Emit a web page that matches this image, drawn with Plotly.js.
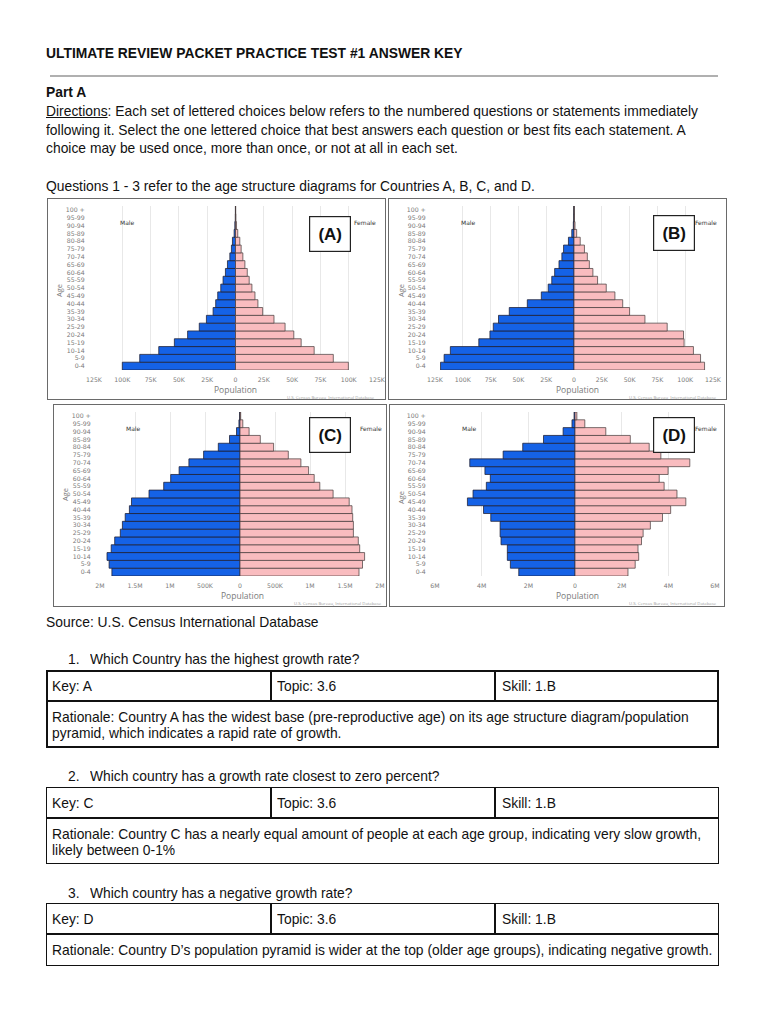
<!DOCTYPE html>
<html>
<head>
<meta charset="utf-8">
<script src="https://cdn.plot.ly/plotly-3.0.1.min.js"></script>
<style>
  html, body { margin:0; padding:0; background:#fff; }
  body { width:768px; height:1024px; position:relative; overflow:hidden; font-family:"Liberation Sans", Arial, sans-serif; color:#111; }
  .t { position:absolute; white-space:nowrap; font-size:15px; line-height:18px; transform-origin:0 50%; }
  .b { font-weight:bold; }
  .frame { position:absolute; box-sizing:border-box; border:1.5px solid #6a6a6a; pointer-events:none; }
  .chart { position:absolute; }
  .box { position:absolute; box-sizing:border-box; border:solid #111; }
  .line { position:absolute; background:#111; }
</style>
</head>
<body>
<div id="page"></div>
<script>
// ---------------- DATA ----------------
const ageGroups = ['0-4','5-9','10-14','15-19','20-24','25-29','30-34','35-39','40-44','45-49','50-54','55-59','60-64','65-69','70-74','75-79','80-84','85-89','90-94','95-99','100 +'];

const maleA   = [100000, 84600, 67800, 54000, 42300, 32000, 25700, 19800, 17500, 15700, 13000, 11000, 8900, 7100, 5000, 3600, 2700, 1200, 600, 200, 100];
const femaleA = [99700, 86400, 69500, 58000, 51500, 43800, 34000, 24000, 19800, 17200, 14500, 12100, 10400, 8300, 6500, 5000, 3800, 2000, 900, 400, 200];

const maleB   = [120000, 116800, 111200, 85600, 75600, 72600, 67900, 58200, 42000, 29400, 23200, 20000, 17400, 13500, 10900, 9400, 5000, 2000, 600, 200, 100];
const femaleB = [117400, 113800, 107400, 99000, 98500, 83800, 63800, 50000, 43800, 36800, 29000, 21200, 17000, 13800, 12000, 9400, 5600, 2400, 900, 300, 100];

const maleC   = [1830000, 1870000, 1900000, 1840000, 1790000, 1710000, 1680000, 1640000, 1580000, 1550000, 1300000, 1090000, 990000, 870000, 730000, 520000, 310000, 150000, 50000, 15000, 5000];
const femaleC = [1700000, 1750000, 1780000, 1710000, 1690000, 1620000, 1620000, 1610000, 1600000, 1560000, 1330000, 1140000, 1060000, 980000, 870000, 690000, 480000, 290000, 130000, 40000, 10000];

const maleD   = [2410000, 2770000, 2900000, 2900000, 3170000, 3210000, 3210000, 3610000, 3920000, 4610000, 4370000, 3800000, 3630000, 3860000, 4510000, 3080000, 2240000, 1350000, 510000, 130000, 40000];
const femaleD = [2270000, 2580000, 2730000, 2700000, 2850000, 2920000, 3230000, 3750000, 4100000, 4750000, 4370000, 3820000, 3610000, 3990000, 4920000, 3680000, 3180000, 2370000, 1320000, 420000, 80000];

const tickValsK = [-125000, -100000, -75000, -50000, -25000, 0, 25000, 50000, 75000, 100000, 125000];
const tickTextK = ['125K','100K','75K','50K','25K','0','25K','50K','75K','100K','125K'];
const tickValsC = [-2000000, -1500000, -1000000, -500000, 0, 500000, 1000000, 1500000, 2000000];
const tickTextC = ['2M','1.5M','1M','500K','0','500K','1M','1.5M','2M'];
const tickValsD = [-6000000, -4000000, -2000000, 0, 2000000, 4000000, 6000000];
const tickTextD = ['6M','4M','2M','0','2M','4M','6M'];

const chartLetters = ['(A)', '(B)', '(C)', '(D)'];
const maleLabel = 'Male', femaleLabel = 'Female', ageTitle = 'Age', popTitle = 'Population';
const creditText = 'U.S. Census Bureau, International Database';

// ---------------- PAGE TEXT ----------------
const page = document.getElementById('page');
function addText(txt, x, yc, opts) {
  opts = opts || {};
  const d = document.createElement('div');
  d.className = 't' + (opts.bold ? ' b' : '');
  d.innerHTML = txt;
  d.style.left = x + 'px';
  d.style.top = (yc - 9) + 'px';
  if (opts.size) d.style.fontSize = opts.size + 'px';
  page.appendChild(d);
  return d;
}
const texts = [];
texts.push(addText('ULTIMATE REVIEW PACKET PRACTICE TEST #1 ANSWER KEY', 46, 53, {bold:true, size:15}));
const hr = document.createElement('div');
hr.style.cssText = 'position:absolute;left:50px;top:75px;width:668px;height:1.5px;background:#b0b0b0;';
page.appendChild(hr);
texts.push(addText('Part A', 46, 92, {bold:true}));
const dirLine = addText('<span style="text-decoration:underline">Directions</span>: Each set of lettered choices below refers to the numbered questions or statements immediately', 46, 111);
texts.push(dirLine);
texts.push(addText('following it. Select the one lettered choice that best answers each question or best fits each statement. A', 46, 129.5));
texts.push(addText('choice may be used once, more than once, or not at all in each set.', 46, 148));
texts.push(addText('Questions 1 - 3 refer to the age structure diagrams for Countries A, B, C, and D.', 46, 186));
texts.push(addText('Source: U.S. Census International Database', 46, 622));

texts.push(addText('1.', 68, 659));
texts.push(addText('Which Country has the highest growth rate?', 90, 659));
texts.push(addText('2.', 68, 776));
texts.push(addText('Which country has a growth rate closest to zero percent?', 90, 776));
texts.push(addText('3.', 68, 893));
texts.push(addText('Which country has a negative growth rate?', 90, 893));

function addTable(top, mid, bottom, bw, row1, rat) {
  const L = 46, R = 719, c1 = 271, c2 = 495;
  const o = document.createElement('div');
  o.className = 'box';
  o.style.cssText += `left:${L}px;top:${top}px;width:${R-L}px;height:${bottom-top}px;border-width:${bw}px;`;
  page.appendChild(o);
  const h = document.createElement('div');
  h.className = 'line';
  h.style.cssText += `left:${L}px;top:${mid-bw/2}px;width:${R-L}px;height:${bw}px;`;
  page.appendChild(h);
  [c1, c2].forEach(c => {
    const v = document.createElement('div');
    v.className = 'line';
    v.style.cssText += `left:${c-bw/2}px;top:${top}px;width:${bw}px;height:${mid-top}px;`;
    page.appendChild(v);
  });
  const yc = (top + mid) / 2 + 0.5;
  texts.push(addText(row1[0], 52, yc));
  texts.push(addText(row1[1], 277, yc));
  texts.push(addText(row1[2], 502, yc));
  rat.forEach((r, i) => texts.push(addText(r, 52, rat.length === 1 ? (mid + bottom) / 2 : mid + 16 + i * 16)));
}
addTable(670, 701, 748, 2, ['Key: A', 'Topic: 3.6', 'Skill: 1.B'],
  ['Rationale: Country A has the widest base (pre-reproductive age) on its age structure diagram/population',
   'pyramid, which indicates a rapid rate of growth.']);
addTable(787, 818, 864, 1.5, ['Key: C', 'Topic: 3.6', 'Skill: 1.B'],
  ['Rationale: Country C has a nearly equal amount of people at each age group, indicating very slow growth,',
   'likely between 0-1%']);
addTable(903, 934, 966, 1.5, ['Key: D', 'Topic: 3.6', 'Skill: 1.B'],
  ['Rationale: Country D\u2019s population pyramid is wider at the top (older age groups), indicating negative growth.']);

// horizontal condensation to match reference
const targetW = 652;
const scale = targetW / dirLine.getBoundingClientRect().width;
texts.forEach(d => { d.style.transform = `scaleX(${scale})`; });

// ---------------- CHARTS ----------------
const frames = [
  {left:47,  top:198, w:339, h:202, m:{l:47, r:9,  t:8, b:30}, male:maleA, female:femaleA, range:[-125000,125000], tv:tickValsK, tt:tickTextK,
   maleX:127, femX:364.5, lblY:223, boxX:329.5, boxY:233.5, ageX:59, ageY:291, popX:235, popY:389, credR:377, credY:397},
  {left:388, top:198, w:339, h:202, m:{l:47, r:14, t:8, b:30}, male:maleB, female:femaleB, range:[-125000,125000], tv:tickValsK, tt:tickTextK,
   maleX:468.5, femX:705.5, lblY:223, boxX:673.5, boxY:233, ageX:401, ageY:291, popX:577.5, popY:389, credR:719, credY:397},
  {left:53,  top:404, w:334, h:203, m:{l:47, r:7,  t:8, b:31}, male:maleC, female:femaleC, range:[-2000000,2000000], tv:tickValsC, tt:tickTextC,
   maleX:133.5, femX:370.5, lblY:429, boxX:330, boxY:434.5, ageX:65, ageY:495, popX:242.5, popY:595, credR:384, credY:603},
  {left:389, top:404, w:336, h:203, m:{l:46, r:10, t:8, b:31}, male:maleD, female:femaleD, range:[-6000000,6000000], tv:tickValsD, tt:tickTextD,
   maleX:469, femX:705.5, lblY:429, boxX:673.5, boxY:434.5, ageX:401, ageY:498, popX:577.5, popY:595, credR:719, credY:603}
];

frames.forEach((f, i) => {
  const div = document.createElement('div');
  div.className = 'chart';
  div.style.left = f.left + 'px';
  div.style.top = f.top + 'px';
  div.style.width = f.w + 'px';
  div.style.height = f.h + 'px';
  page.appendChild(div);
  const fr = document.createElement('div');
  fr.className = 'frame';
  fr.style.left = f.left + 'px';
  fr.style.top = f.top + 'px';
  fr.style.width = f.w + 'px';
  fr.style.height = f.h + 'px';
  page.appendChild(fr);

  const pw = f.w - f.m.l - f.m.r, ph = f.h - f.m.t - f.m.b;
  const px = x => (x - f.left - f.m.l) / pw;
  const py = y => 1 - (y - f.top - f.m.t) / ph;

  const traces = [
    {type:'bar', orientation:'h', y:ageGroups, x:f.male.map(v => -v), name:maleLabel,
     marker:{color:'#1562e6', line:{color:'rgba(30,30,50,0.85)', width:0.9}}, hoverinfo:'skip'},
    {type:'bar', orientation:'h', y:ageGroups, x:f.female, name:femaleLabel,
     marker:{color:'#f9bcbf', line:{color:'rgba(70,60,60,0.8)', width:0.9}}, hoverinfo:'skip'}
  ];
  const axFont = {family:'"DejaVu Sans", sans-serif', size:6.2, color:'#7a7a7a'};
  const layout = {
    width:f.w, height:f.h, margin:f.m,
    paper_bgcolor:'rgba(0,0,0,0)', plot_bgcolor:'#fff',
    barmode:'relative', bargap:0, showlegend:false,
    font:{family:'"Open Sans", sans-serif'},
    xaxis:{range:f.range, tickmode:'array', tickvals:f.tv, ticktext:f.tt, showgrid:true, gridcolor:'#e8e8e8', gridwidth:1,
           zeroline:false, showline:false, ticks:'outside', ticklen:4, tickcolor:'rgba(0,0,0,0)', tickfont:axFont, fixedrange:true},
    yaxis:{type:'category', categoryorder:'array', categoryarray:ageGroups, range:[-0.5, 20.5],
           tickmode:'array', tickvals:ageGroups, ticktext:ageGroups, showgrid:false, zeroline:false,
           showline:false, ticks:'outside', ticklen:7, tickcolor:'rgba(0,0,0,0)', tickfont:axFont, fixedrange:true},
    annotations:[
      {text:maleLabel, xref:'paper', yref:'paper', x:px(f.maleX), y:py(f.lblY), showarrow:false, xanchor:'center', yanchor:'middle',
       font:{family:'"DejaVu Sans", sans-serif', size:6, color:'#333'}},
      {text:femaleLabel, xref:'paper', yref:'paper', x:px(f.femX), y:py(f.lblY), showarrow:false, xanchor:'center', yanchor:'middle',
       font:{family:'"DejaVu Sans", sans-serif', size:6, color:'#333'}},
      {text:'<b>' + chartLetters[i] + '</b>', xref:'paper', yref:'paper', x:px(f.boxX), y:py(f.boxY), showarrow:false,
       xanchor:'center', yanchor:'middle', width:40, height:34, bgcolor:'#fff', bordercolor:'#222', borderwidth:1.2, borderpad:0,
       font:{family:'"Liberation Sans", Arial, sans-serif', size:17, color:'#111'}},
      {text:ageTitle, xref:'paper', yref:'paper', x:px(f.ageX), y:py(f.ageY), showarrow:false, textangle:-90,
       xanchor:'center', yanchor:'middle', font:{family:'"Open Sans", sans-serif', size:7.5, color:'#7a7a7a'}},
      {text:popTitle, xref:'paper', yref:'paper', x:px(f.popX), y:py(f.popY), showarrow:false,
       xanchor:'center', yanchor:'middle', font:{family:'"Open Sans", sans-serif', size:8.5, color:'#7a7a7a'}},
      {text:creditText, xref:'paper', yref:'paper', x:px(f.credR), y:py(f.credY), showarrow:false,
       xanchor:'right', yanchor:'middle', font:{family:'"Open Sans", sans-serif', size:4.3, color:'#a0a0a0'}}
    ]
  };
  Plotly.newPlot(div, traces, layout, {staticPlot:true, displayModeBar:false});
});
</script>
</body>
</html>
